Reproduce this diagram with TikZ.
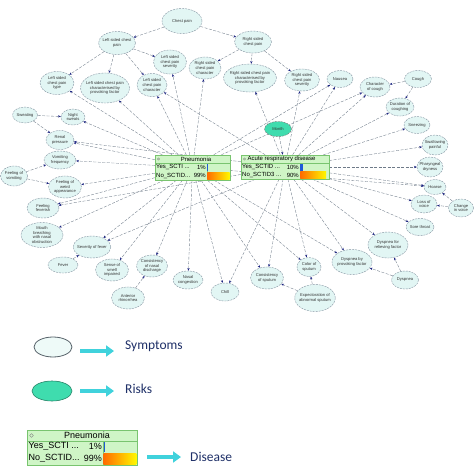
\documentclass[tikz,border=0pt]{standalone}
\usepackage{fontspec}
\setmainfont{Liberation Sans}
\newfontfamily\legendfont{Carlito}
\usetikzlibrary{shapes.geometric,arrows.meta}
\pgfdeclarelayer{background}
\pgfsetlayers{background,main}

\definecolor{symfill}{HTML}{E2F6F4}
\definecolor{symline}{HTML}{8595A2}
\definecolor{edgecol}{HTML}{6E7A88}
\definecolor{tipcol}{HTML}{1A2380}
\definecolor{riskfill}{HTML}{3FDCAE}
\definecolor{boxfill}{HTML}{CFF5C6}
\definecolor{boxline}{HTML}{79C46F}
\definecolor{legtext}{HTML}{1F3068}
\definecolor{legarrow}{HTML}{40D2DC}
\definecolor{barblue}{HTML}{1E5AD8}

\tikzset{
  sym/.style={ellipse, draw=symline, fill=symfill, dash pattern=on 2pt off 1pt,
    line width=0.4pt, inner sep=-1.5pt, align=center,
    font=\fontsize{4.1}{4.9}\selectfont, text=black!80},
  sz/.style 2 args={minimum width=#1pt, minimum height=#2pt},
  risk/.style={sym, fill=riskfill, draw=black!55},
  link/.style={draw=edgecol, dash pattern=on 3pt off 1.5pt, line width=0.35pt,
    -{Stealth[length=2.8pt,width=2.2pt,color=tipcol]}},
  dbox/.style={rectangle, draw=boxline, fill=boxfill, line width=0.5pt, inner sep=0pt},
  boxtxt/.style={font=\fontsize{6}{6}\selectfont, inner sep=0pt, text=black},
  legtxt/.style={font=\legendfont\fontsize{13.5}{14}\selectfont, text=legtext, inner sep=0pt, anchor=west},
  legarr/.style={draw=legarrow, line width=3.5pt, -{Triangle[length=8pt,width=11pt]}},
}

\begin{document}
\begin{tikzpicture}[x=1pt,y=-1pt]
\useasboundingbox (0,0) rectangle (474,474);
\begin{pgfonlayer}{background}
\fill[white] (0,0) rectangle (474,474);
\end{pgfonlayer}

% ---------- symptom nodes ----------
\node[sym,sz={40}{25}] (cp) at (182,21) {Chest pain};
\node[sym,sz={37}{23}] (lscp) at (117,43) {Left sided chest\\pain};
\node[sym,sz={37}{22}] (rscp) at (253,42) {Right sided\\chest pain};
\node[sym,sz={34}{23}] (lscpt) at (57,83) {Left sided\\chest pain\\type};
\node[sym,sz={48}{30}] (lscpcp) at (105,88) {Left sided chest pain\\characterised by\\provoking factor};
\node[sym,sz={30}{23}] (lscpc) at (152,85) {Left sided\\chest pain\\character};
\node[sym,sz={33}{24}] (lscps) at (170,62) {Left sided\\chest pain\\severity};
\node[sym,sz={32}{22}] (rscpc) at (205,68) {Right sided\\chest pain\\character};
\node[sym,sz={45}{28}] (rscpcp) at (250,78) {Right sided chest pain\\characterised by\\provoking factor};
\node[sym,sz={35}{22}] (rscps) at (302,80) {Right sided\\chest pain\\severity};
\node[sym,sz={26}{17}] (nausea) at (340,79) {Nausea};
\node[sym,sz={30}{20}] (coc) at (375,87) {Character\\of cough};
\node[sym,sz={27}{17}] (cough) at (418,79) {Cough};
\node[sym,sz={28}{18}] (doc) at (400,107) {Duration of\\coughing};
\node[sym,sz={26}{17}] (sneez) at (417,125) {Sneezing};
\node[sym,sz={26}{20}] (swal) at (435,145) {Swallowing\\painful};
\node[sym,sz={26}{20}] (phar) at (430,167) {Pharyngeal\\dryness};
\node[sym,sz={22}{15}] (hoarse) at (435,187) {Hoarse};
\node[sym,sz={26}{18}] (lov) at (424,204) {Loss of\\voice};
\node[sym,sz={25}{18}] (civ) at (461,208) {Change\\in voice};
\node[sym,sz={28}{17}] (sore) at (420,227) {Sore throat};
\node[sym,sz={40}{26}] (dyr) at (388,245) {Dyspnea for\\relieving factor};
\node[sym,sz={40}{25}] (dyp) at (352,262) {Dyspnea by\\provoking factor};
\node[sym,sz={27}{18}] (dysp) at (405,280) {Dyspnea};
\node[sym,sz={24}{19}] (cos) at (309,267) {Color of\\sputum};
\node[sym,sz={40}{27}] (expn) at (315,298) {Expectoration of\\abnormal sputum};
\node[sym,sz={33}{22}] (cons) at (267,278) {Consistency\\of sputum};
\node[sym,sz={28}{18}] (chill) at (225,292) {Chill};
\node[sym,sz={30}{18}] (nasc) at (188,280) {Nasal\\congestion};
\node[sym,sz={31}{22}] (cnd) at (152,266) {Consistency\\of nasal\\discharge};
\node[sym,sz={33}{22}] (ant) at (128,298) {Anterior\\rhinorrhea};
\node[sym,sz={33}{22}] (smell) at (112,270) {Sense of\\smell\\impaired};
\node[sym,sz={30}{16}] (fever) at (63,265) {Fever};
\node[sym,sz={37}{22}] (sevf) at (92,247) {Severity of fever};
\node[sym,sz={42}{25}] (mouthb) at (42,235) {Mouth\\breathing\\with nasal\\obstruction};
\node[sym,sz={32}{20}] (feelf) at (43,208) {Feeling\\feverish};
\node[sym,sz={33}{22}] (weird) at (65,187) {Feeling of\\weird\\appearance};
\node[sym,sz={32}{18}] (vomf) at (60,160) {Vomiting\\frequency};
\node[sym,sz={27}{20}] (feelv) at (14,176) {Feeling of\\vomiting};
\node[sym,sz={28}{19}] (renal) at (60,140) {Renal\\pressure};
\node[sym,sz={24}{16}] (nights) at (73,117) {Night\\sweats};
\node[sym,sz={25}{16}] (sweat) at (25,115) {Sweating};
\node[risk,sz={27}{15}] (month) at (278,129) {Month};

% ---------- disease boxes ----------
\node[dbox, minimum width=75pt, minimum height=25pt] (pn) at (192.5,167.5) {};
\node[dbox, minimum width=88pt, minimum height=24pt] (ard) at (285,167) {};

% ---------- connectors ----------
\begin{pgfonlayer}{background}
\foreach \t in {lscpt,lscpcp,lscpc,lscps,rscpc,nausea,coc,nights,renal,vomf,weird,feelf,mouthb,sevf,smell,cnd,nasc,chill,cons,cos,dyp,hoarse}
  \draw[link] (pn) -- (\t);
\foreach \t in {lscpc,rscpcp,rscps,nausea,coc,doc,sneez,swal,phar,hoarse,lov,sore,dyr,dyp,cos,cons,chill,sevf,feelf,renal}
  \draw[link] (ard) -- (\t);
\draw[link] (cp) -- (lscp);
\draw[link] (cp) -- (rscp);
\foreach \t in {lscpt,lscpcp,lscpc,lscps} \draw[link] (lscp) -- (\t);
\foreach \t in {rscpc,rscpcp,rscps} \draw[link] (rscp) -- (\t);
\draw[link] (cough) -- (coc);
\draw[link] (cough) -- (doc);
\draw[link] (sweat) -- (nights);
\draw[link] (sweat) -- (renal);
\draw[link] (feelv) -- (vomf);
\draw[link] (feelv) -- (weird);
\draw[link] (fever) -- (sevf);
\draw[link] (ant) -- (cnd);
\draw[link] (expn) -- (cons);
\draw[link] (expn) -- (cos);
\draw[link] (dysp) -- (dyp);
\draw[link] (dysp) -- (dyr);
\draw[link] (civ) -- (hoarse);
\draw[link] (civ) -- (lov);
\draw[link] (month) -- (ard);
\end{pgfonlayer}

% ---------- Pneumonia box contents ----------
\draw[boxline, line width=0.4pt] (155,163) -- (230,163);
\draw[boxline, line width=0.4pt] (207,163) -- (207,180);
\draw[black!50, line width=0.3pt] (158.5,159) circle (1.2);
\node[boxtxt] at (196,159) {Pneumonia};
\node[boxtxt, anchor=west] at (156,167.3) {Yes\_SCTI ...};
\node[boxtxt, anchor=east] at (206,167.3) {1\%};
\node[boxtxt, anchor=west] at (156,175.8) {No\_SCTID...};
\node[boxtxt, anchor=east] at (206,175.8) {99\%};
\fill[barblue] (207.3,164) rectangle (208.1,171);
\shade[left color=orange!85!red, right color=yellow!95!orange] (207.3,172) rectangle (229.5,179.4);

% ---------- Acute respiratory disease box contents ----------
\draw[boxline, line width=0.4pt] (241,163) -- (329,163);
\draw[boxline, line width=0.4pt] (300,163) -- (300,179);
\draw[black!50, line width=0.3pt] (244.5,159) circle (1.2);
\node[boxtxt, anchor=west] at (247.5,159) {Acute respiratory disease};
\node[boxtxt, anchor=west] at (242,167) {Yes\_SCTID ...};
\node[boxtxt, anchor=east] at (299,167) {10\%};
\node[boxtxt, anchor=west] at (242,175.3) {No\_SCTID3 ...};
\node[boxtxt, anchor=east] at (299,175.3) {90\%};
\fill[barblue] (300.3,164) rectangle (303,170.5);
\shade[left color=orange!85!red, right color=yellow!95!orange] (300.3,171.8) rectangle (326,178.5);

% ---------- legend ----------
\node[ellipse, draw=black!35!symline, fill=symfill!60!white, line width=0.8pt, minimum width=38pt, minimum height=20pt] (lsym) at (53,347) {};
\node[legtxt] (tsym) at (125,346) {Symptoms};
\node[ellipse, draw=riskfill!60!black, fill=riskfill, line width=0.6pt, minimum width=40pt, minimum height=20pt] (lrisk) at (52,391) {};
\node[legtxt] (trisk) at (125,389) {Risks};

\node[dbox, minimum width=110pt, minimum height=35pt] (lbox) at (82,447.5) {};
\draw[boxline, line width=0.5pt] (27,441) -- (137,441);
\draw[boxline, line width=0.5pt] (103,441) -- (103,465);
\draw[black!50, line width=0.4pt] (31.5,435.5) circle (1.8);
\node[boxtxt, font=\fontsize{9}{9}\selectfont] at (87,435.7) {Pneumonia};
\node[boxtxt, font=\fontsize{9}{9}\selectfont, anchor=west] at (28.5,446.7) {Yes\_SCTI ...};
\node[boxtxt, font=\fontsize{9}{9}\selectfont, anchor=east] at (102,446.7) {1\%};
\node[boxtxt, font=\fontsize{9}{9}\selectfont, anchor=west] at (28.5,458.5) {No\_SCTID...};
\node[boxtxt, font=\fontsize{9}{9}\selectfont, anchor=east] at (102,458.5) {99\%};
\fill[barblue] (103.6,442) rectangle (104.8,451.5);
\shade[left color=orange!85!red, right color=yellow!95!orange] (103.6,453) rectangle (136.4,464.4);
\node[legtxt] (tdis) at (190,457) {Disease};

\coordinate (s1) at (80,351); \coordinate (e1) at (114,351);
\coordinate (s2) at (80,391); \coordinate (e2) at (114,391);
\coordinate (s3) at (147,457); \coordinate (e3) at (181,457);
\draw[legarr] (s1) -- (e1);
\draw[legarr] (s2) -- (e2);
\draw[legarr] (s3) -- (e3);
\end{tikzpicture}
\end{document}
